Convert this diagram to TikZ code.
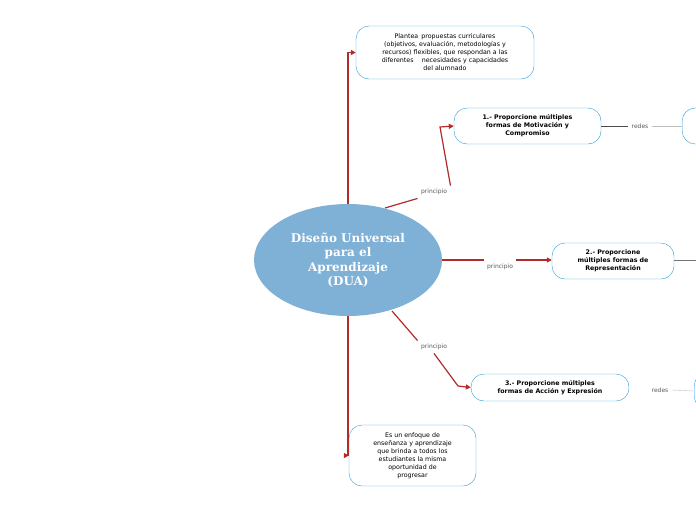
\documentclass[tikz,border=0pt]{standalone}
\usepackage{fontspec}
\setmainfont{DejaVu Sans}
\newfontfamily\titlefont{DejaVu Serif}
\usetikzlibrary{arrows.meta,positioning,shapes.geometric}
\definecolor{dua}{HTML}{7FB0D6}
\definecolor{boxline}{HTML}{2D9CDB}
\definecolor{linkred}{HTML}{B22A2A}
\tikzset{
  idea/.style={draw=boxline,rounded corners=13pt,fill=white,align=center,font=\fontsize{6.3}{8}\selectfont,inner sep=2pt},
  bolde/.style={idea,font=\fontsize{6.3}{8}\selectfont\bfseries},
  tag/.style={font=\fontsize{6}{7}\selectfont,text=black!65,fill=white},
  link/.style={draw=linkred,line width=1.2pt},
  tip/.style={link,-{Triangle[length=5pt,width=5pt]}},
}
\begin{document}
\begin{tikzpicture}[x=1pt,y=-1pt]
\useasboundingbox (0,0) rectangle (696,520);
% centro
\node[ellipse,fill=dua,minimum width=188,minimum height=112,align=center,text=white,font=\titlefont\fontsize{12}{14.5}\selectfont\bfseries] (dua) at (348,260) {Diseño Universal\\para el\\Aprendizaje\\(DUA)};
% cajas
\node[idea,minimum width=178,minimum height=53] (plantea) at (445,52.5) {Plantea\, propuestas curriculares\\(objetivos, evaluación, metodologías y\\recursos) flexibles, que respondan a las\\diferentes \quad necesidades y capacidades\\del alumnado};
\node[bolde,minimum width=147,minimum height=36] (p1) at (527.5,126) {1.- Proporcione múltiples\\formas de Motivación y\\Compromiso};
\node[bolde,minimum width=122,minimum height=36] (p2) at (613,261) {2.- Proporcione\\múltiples formas de\\Representación};
\node[bolde,minimum width=158,minimum height=27] (p3) at (550,387.5) {3.- Proporcione múltiples\\formas de Acción y Expresión};
\node[idea,minimum width=127,minimum height=61] (enfoque) at (412.5,455.5) {Es un enfoque de\\enseñanza y aprendizaje\\que brinda a todos los\\estudiantes la misma\\oportunidad de\\progresar};
% nodos cortados en el borde
\node[draw=boxline,rounded corners=13pt,minimum width=40,minimum height=36,anchor=west] (r1) at (682,126) {};
\node[draw=boxline,rounded corners=13pt,minimum width=40,minimum height=36,anchor=west] (r3) at (694,391) {};
% etiquetas
\node[tag] (l1) at (434,192) {principio};
\node[tag] (l2) at (500,267) {principio};
\node[tag] (l3) at (434,347) {principio};
\node[tag] (n1) at (640,126) {redes};
\node[tag] (n3) at (660,390) {redes};
\coordinate (e2) at (696,260);
\coordinate (a1) at (385,208);
\coordinate (a3) at (392,311);
% conexiones
\draw[tip] (dua.north) |- (plantea.west);
\draw[tip] (dua.south) |- (enfoque.west);
\draw[link] (a1) -- (l1.south west);
\draw[tip] (l1.north east) -- (440,127) -- (p1.west);
\draw[link] (dua.east) -- (l2.west |- dua.east);
\draw[tip] (l2.east |- dua.east) -- (p2.west |- dua.east);
\draw[link] (a3) -- (l3.north west);
\draw[tip] (l3.south) -- (458,386) -- (p3.west);
\draw[black!70,line width=1pt] (p1.east) -- (n1.west);
\draw[black!25] (n1.east) -- (r1.west);
\draw[black!55,line width=1pt] (p2.east |- e2) -- (e2);
\draw[black!25] (n3.east) -- (r3.west);
\end{tikzpicture}
\end{document}
